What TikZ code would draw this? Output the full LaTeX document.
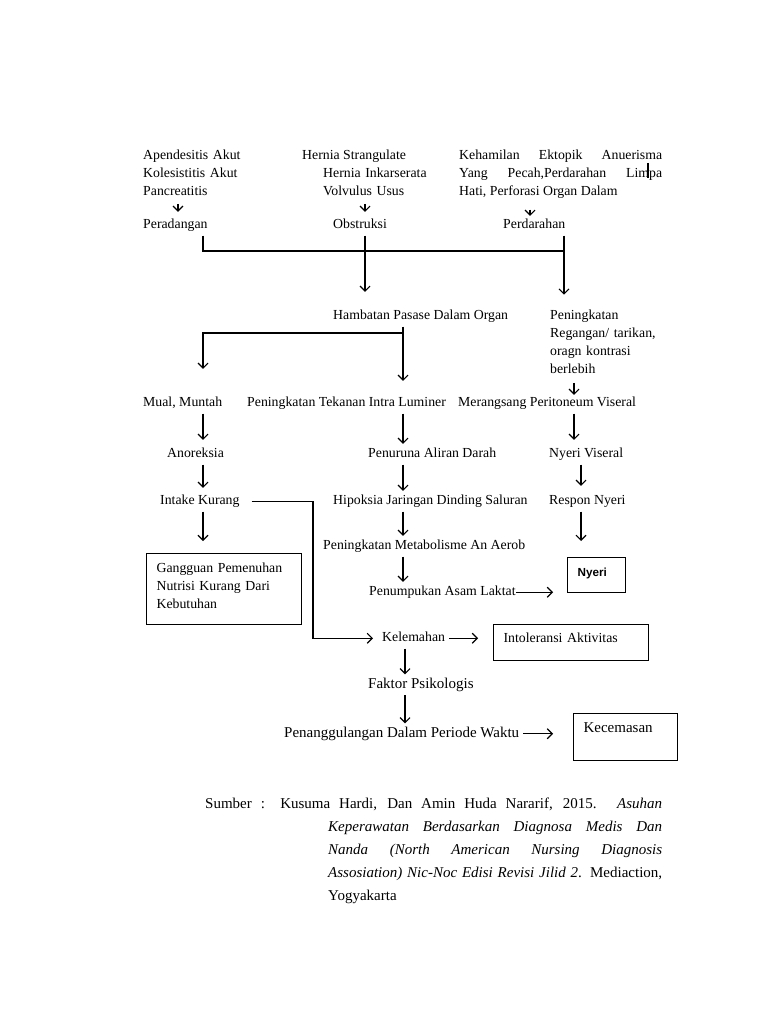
\documentclass[tikz,border=0pt]{standalone}
\usepackage{fontspec}
\setmainfont{Liberation Serif}
\newfontfamily\arialfont{Liberation Sans}
\usetikzlibrary{arrows.meta, positioning}

\begin{document}
\begin{tikzpicture}[
        x=1pt, y=-1pt,
        txt/.style={inner xsep=0pt, inner ysep=4pt, anchor=base west, text height=9.5pt, text depth=3pt},
        blk/.style={inner sep=0pt, anchor=base west, align=left},
        box/.style={draw, line width=1.1pt, inner xsep=10pt, inner ysep=0pt, anchor=north west, align=left},
        arrow/.style={-{Straight Barb[length=5pt, width=10pt]}, line width=1.1pt},
        smallarrow/.style={arrow, shorten <=8pt, shorten >=3pt},
        wire/.style={line width=1.1pt},
        big/.style={font=\fontsize{15}{18}\selectfont},
        font=\fontsize{13.8}{18}\selectfont
    ]
        \useasboundingbox (0,0) rectangle (768,1024);

        % Columns and bus lines
        \coordinate (colA) at (178,0);
        \coordinate (colL) at (203,0);
        \coordinate (colK) at (313,0);
        \coordinate (colO) at (365,0);
        \coordinate (colM) at (403,0);
        \coordinate (colN) at (405,0);
        \coordinate (colP) at (530,0);
        \coordinate (colR) at (564,0);
        \coordinate (colS) at (574,0);
        \coordinate (colT) at (581,0);
        \coordinate (bus) at (0,251);
        \coordinate (split) at (0,333);

        % Row 1: causes
        \node[blk, text width=110pt] (inflam) at (143,159.5) {Apendesitis Akut\\Kolesistitis Akut\\Pancreatitis};
        \node[txt] (hernia) at (302,159.5) {Hernia Strangulate};
        \node[blk, text width=120pt] (volvulus) at (323,177.5) {Hernia Inkarserata\\Volvulus Usus};
        \node[blk, text width=203pt, align=justify] (hemor) at (459,159.5) {Kehamilan Ektopik Anuerisma\linebreak Yang Pecah,Perdarahan Limpa\linebreak Hati, Perforasi Organ Dalam};
        \coordinate (tickA) at (648,163);
        \coordinate (tickB) at (648,178);

        % Row 2
        \node[txt] (peradangan) at (143,228.5) {Peradangan};
        \node[txt] (obstruksi) at (333,228.5) {Obstruksi};
        \node[txt] (perdarahan) at (503,228.5) {Perdarahan};

        % Row 3
        \node[txt] (hambatan) at (333,319.5) {Hambatan Pasase Dalam Organ};
        \node[blk, text width=120pt] (regangan) at (550,319.5) {Peningkatan\\Regangan/ tarikan,\\oragn kontrasi\\berlebih};

        % Row 4
        \node[txt] (mual) at (143,406.5) {Mual, Muntah};
        \node[txt] (tekanan) at (247,406.5) {Peningkatan Tekanan Intra Luminer};
        \node[txt] (merangsang) at (458,406.5) {Merangsang Peritoneum Viseral};

        % Row 5
        \node[txt] (anoreksia) at (167,457.5) {Anoreksia};
        \node[txt] (penuruna) at (368,457.5) {Penuruna Aliran Darah};
        \node[txt] (viseral) at (549,457.5) {Nyeri Viseral};

        % Row 6
        \node[txt] (intake) at (160,504.5) {Intake Kurang};
        \node[txt] (hipoksia) at (333,504.5) {Hipoksia Jaringan Dinding Saluran};
        \node[txt] (respon) at (549,504.5) {Respon Nyeri};

        % Middle chain
        \node[txt] (metabolisme) at (323,549.5) {Peningkatan Metabolisme An Aerob};
        \node[txt] (penumpukan) at (369,595.5) {Penumpukan Asam Laktat};
        \node[txt] (kelemahan) at (382,641.5) {Kelemahan};
        \node[txt, big] (faktor) at (368,688) {Faktor Psikologis};
        \node[txt, big] (penanggulangan) at (284,737) {Penanggulangan Dalam Periode Waktu};

        % Diagnosis boxes
        \node[box, text width=135pt, text height=18.5pt, text depth=52.5pt] (gangguan) at (146,553) {Gangguan Pemenuhan\\Nutrisi Kurang Dari\\Kebutuhan};
        \node[box, text width=38pt, text height=19pt, text depth=16pt, font=\arialfont\bfseries\fontsize{11.7}{14}\selectfont] (nyeri) at (567,557) {Nyeri};
        \node[box, text width=135pt, text height=17.5pt, text depth=18.5pt] (intoleransi) at (493,624) {Intoleransi Aktivitas};
        \node[box, big, text width=84pt, text height=19pt, text depth=28pt] (kecemasan) at (573,713) {Kecemasan};

        % Source
        \node[blk, text width=457pt, align=justify, font=\fontsize{15}{23}\selectfont] (sumber) at (205,808) {\hangindent=123pt \hangafter=1 Sumber : Kusuma Hardi, Dan Amin Huda Nararif, 2015. \textit{Asuhan\linebreak Keperawatan Berdasarkan Diagnosa Medis Dan\linebreak Nanda (North American Nursing Diagnosis\linebreak Assosiation) Nic-Noc Edisi Revisi Jilid 2}. Mediaction,\linebreak Yogyakarta\par};

        % Arrows
        \draw[smallarrow] (inflam.south -| colA) -- (peradangan.north -| colA);
        \draw[smallarrow] (volvulus.south -| colO) -- (obstruksi.north -| colO);
        \draw[smallarrow, shorten <=11pt, shorten >=-1pt] (hemor.south -| colP) -- (perdarahan.north -| colP);
        \draw[wire] (tickA) -- (tickB);
        \draw[wire] (peradangan.south -| colL) -- (bus -| colL) -- (bus -| colR);
        \draw[arrow, shorten >=14pt] (obstruksi.south -| colO) -- (hambatan.north -| colO);
        \draw[arrow, shorten >=15pt] (perdarahan.south -| colR) -- (regangan.north -| colR);
        \draw[arrow, shorten >=12pt] (hambatan.south -| colM) -- (tekanan.north -| colM);
        \draw[arrow, shorten >=24pt] (split -| colM) -| (mual.north -| colL);
        \draw[smallarrow, shorten <=9pt, shorten >=-2pt] (regangan.south -| colS) -- (merangsang.north -| colS);
        \draw[arrow, shorten >=4pt] (mual.south -| colL) -- (anoreksia.north -| colL);
        \draw[arrow] (tekanan.south -| colM) -- (penuruna.north -| colM);
        \draw[arrow, shorten >=4pt] (merangsang.south -| colS) -- (viseral.north -| colS);
        \draw[arrow, shorten >=3pt] (anoreksia.south -| colL) -- (intake.north -| colL);
        \draw[arrow] (penuruna.south -| colM) -- (hipoksia.north -| colM);
        \draw[arrow, shorten >=5pt] (viseral.south -| colT) -- (respon.north -| colT);
        \draw[arrow, shorten >=12pt] (intake.south -| colL) -- (gangguan.north -| colL);
        \draw[arrow] (hipoksia.south -| colM) -- (metabolisme.north -| colM);
        \draw[arrow, shorten >=16pt] (respon.south -| colT) -- (nyeri.north -| colT);
        \draw[arrow] (metabolisme.south -| colM) -- (penumpukan.north -| colM);
        \draw[arrow, shorten >=14pt] (penumpukan.east) -- (nyeri.west |- penumpukan.east);
        \draw[arrow, shorten <=12pt, shorten >=9pt] (intake.east) -| (colK |- kelemahan.west) -- (kelemahan.west);
        \draw[arrow, shorten <=4pt, shorten >=15pt] (kelemahan.east) -- (intoleransi.west |- kelemahan.east);
        \draw[arrow] (kelemahan.south -| colN) -- (faktor.north -| colN);
        \draw[arrow] (faktor.south -| colN) -- (penanggulangan.north -| colN);
        \draw[arrow, shorten <=4pt, shorten >=20pt] (penanggulangan.east) -- (kecemasan.west |- penanggulangan.east);
    \end{tikzpicture}
\end{document}
